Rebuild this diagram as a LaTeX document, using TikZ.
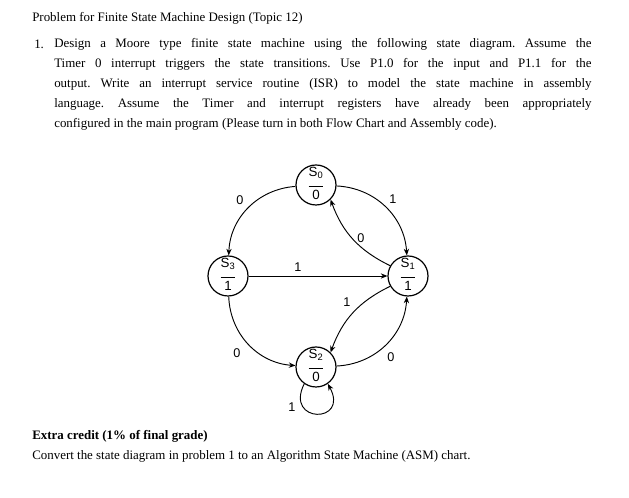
\documentclass[tikz,border=0pt]{standalone}
\usepackage{fontspec}
\setmainfont{Liberation Serif}
\newfontfamily\lsans{Liberation Sans}
\usetikzlibrary{arrows.meta}
\tikzset{
  txt/.style={anchor=west,inner sep=0pt,font=\fontsize{9.7}{12}\selectfont},
  jline/.style={txt,text width=403pt,align=justify},
  state/.style={circle,draw,line width=0.9pt,minimum size=30pt,inner sep=0pt,font=\lsans\fontsize{10}{11}\selectfont},
  edge/.style={line width=0.7pt,-{Stealth[length=5pt,width=4pt]}},
  lbl/.style={font=\lsans\fontsize{9.5}{10}\selectfont,inner sep=1pt}
}
\newcommand{\stlab}[2]{\begin{tabular}{@{}c@{}}S\textsubscript{#1}\\[-3pt]\rule{11pt}{0.6pt}\\[-2pt]#2\end{tabular}}
\newcommand{\jl}[1]{{\frenchspacing\parfillskip=0pt #1\par}}
\begin{document}
\begin{tikzpicture}[x=0.75pt,y=-0.75pt]
\useasboundingbox (0,0) rectangle (629,498);
\node[txt] (t0) at (32,18) {Problem for Finite State Machine Design (Topic 12)};
\node[txt] (n1) at (34,44) {1.};
\node[jline] (l1) at (54,44) {\jl{Design a Moore type finite state machine using the following state diagram. Assume the}};
\node[jline] (l2) at (54,64) {\jl{Timer 0 interrupt triggers the state transitions. Use P1.0 for the input and P1.1 for the}};
\node[jline] (l3) at (54,84) {\jl{output. Write an interrupt service routine (ISR) to model the state machine in assembly}};
\node[jline] (l4) at (54,104) {\jl{language. Assume the Timer and interrupt registers have already been appropriately}};
\node[txt] (l5) at (54,124) {configured in the main program (Please turn in both Flow Chart and Assembly code).};
\node[txt,font=\bfseries\fontsize{9.7}{12}\selectfont] (e1) at (32,436) {Extra credit (1\% of final grade)};
\node[txt] (e2) at (32,456) {Convert the state diagram in problem 1 to an Algorithm State Machine (ASM) chart.};

\node[state] (S0) at (316,185) {\stlab{0}{0}};
\node[state] (S1) at (408,276) {\stlab{1}{1}};
\node[state] (S2) at (316,367) {\stlab{2}{0}};
\node[state] (S3) at (228,276) {\stlab{3}{1}};

\draw[edge] (S0) to[bend right=42] (S3);
\draw[edge] (S0) to[bend left=42] (S1);
\draw[edge] (S3) to[bend right=42] (S2);
\draw[edge] (S2) to[bend right=42] (S1);
\draw[edge] (S3) -- (S1);
\draw[edge] (S1.150) to[bend left=22] (S0.-45);
\draw[edge] (S1.210) to[bend right=22] (S2.45);
\draw[edge] (S2.-125) .. controls +(-20,40) and +(22,40) .. (S2.-55);

\node[lbl] at (240,200) {0};
\node[lbl] at (393,199) {1};
\node[lbl] at (361,238) {0};
\node[lbl] at (298,267) {1};
\node[lbl] at (347,302) {1};
\node[lbl] at (237,353) {0};
\node[lbl] at (391,357) {0};
\node[lbl] at (292,407) {1};
\end{tikzpicture}
\end{document}
